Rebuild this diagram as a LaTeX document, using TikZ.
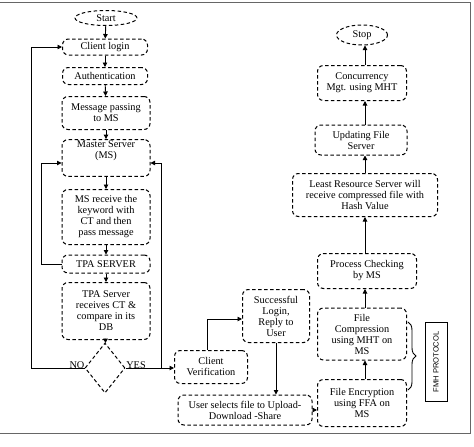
\documentclass[tikz,border=0pt]{standalone}
\usepackage{fontspec}
\setmainfont{Liberation Serif}
\newfontfamily\fmhfont{Liberation Sans}
\usetikzlibrary{arrows.meta,shapes.geometric,decorations.pathreplacing}
\begin{document}
\begin{tikzpicture}[x=1pt,y=-1pt,
  box/.style={draw, dash pattern=on 3.5pt off 2.5pt, rounded corners=6pt, align=center,
    font=\fontsize{10.3}{11}\selectfont, inner sep=1pt, line width=1pt},
  oval/.style={draw, ellipse, dash pattern=on 3.5pt off 2.5pt, font=\fontsize{10.3}{11}\selectfont,
    inner sep=0pt, line width=1pt},
  dia/.style={draw, diamond, dash pattern=on 3.5pt off 2.5pt, inner sep=0pt, line width=1pt},
  arr/.style={-{Triangle[length=4.5pt,width=4.5pt]}, line width=0.9pt},
  lab/.style={font=\fontsize{10.3}{11}\selectfont, inner sep=0pt},
  frameline/.style={draw=black!60, line width=0.9pt}
]
\useasboundingbox (0,0) rectangle (474,447);
% frame
\draw[frameline] (0,2) -- (470,2) -- (470,433) -- (0,433);

% left column
\node[oval, minimum width=62pt, minimum height=15pt] (start) at (106,18) {Start};
\node[box, minimum width=85pt, minimum height=16pt] (login) at (105,47) {Client login};
\node[box, minimum width=85pt, minimum height=17pt] (auth) at (105,76) {Authentication};
\node[box, minimum width=88pt, minimum height=33pt] (msg) at (106,113) {Message passing\\to MS};
\node[box, minimum width=88pt, minimum height=36pt] (ms) at (106,158) {Master Server\\(MS)\\[6pt]};
\node[box, minimum width=88pt, minimum height=55pt] (recv) at (106,217) {MS receive the\\keyword with\\CT and then\\pass message};
\node[box, minimum width=88pt, minimum height=18pt] (tpa) at (106,264) {TPA SERVER};
\node[box, minimum width=88pt, minimum height=57pt] (tpas) at (106,311) {TPA Server\\receives CT \&\\compare in its\\DB};
\node[dia, minimum width=40pt, minimum height=50pt] (dec) at (105,368) {};
\node[lab] (no) at (77,365) {NO};
\node[lab] (yes) at (136,365) {YES};

% middle
\node[box, minimum width=73pt, minimum height=33pt] (cv) at (211,367) {Client\\Verification};
\node[box, minimum width=67pt, minimum height=53pt] (succ) at (276,316) {Successful\\Login,\\Reply to\\User};
\node[box, minimum width=134pt, minimum height=30pt] (user) at (245,410) {User selects file to Upload-\\Download -Share};

% right column
\node[box, minimum width=89pt, minimum height=47pt] (enc) at (362,403) {File Encryption\\using FFA on\\MS};
\node[box, minimum width=89pt, minimum height=52pt] (comp) at (362,334) {File\\Compression\\using MHT on\\MS};
\node[box, minimum width=99pt, minimum height=35pt] (proc) at (367,271) {Process Checking\\by MS};
\node[box, minimum width=145pt, minimum height=43pt] (least) at (365,195) {Least Resource Server will\\receive compressed file with\\Hash Value};
\node[box, minimum width=92pt, minimum height=30pt] (upd) at (361,140) {Updating File\\Server};
\node[box, minimum width=89pt, minimum height=35pt] (conc) at (362,83) {Concurrency\\Mgt. using MHT};
\node[oval, minimum width=51pt, minimum height=20pt] (stop) at (362,35) {Stop};

\node[draw, line width=0.9pt, rotate=90, minimum width=79pt, minimum height=22pt, inner sep=0pt,
  font=\fmhfont\fontsize{7.6}{8}\selectfont] (fmh) at (436,362) {FMH PROTOCOL};

% left column arrows
\draw[arr] (start) -- (login);
\draw[arr] (login) -- (auth);
\draw[arr] (auth) -- (msg);
\draw[arr] (msg) -- (ms);
\draw[arr] (ms) -- (recv);
\draw[arr] (recv) -- (tpa);
\draw[arr] (tpa) -- (tpas);
\draw[arr] (tpas) -- (dec);

% loops
\coordinate (noc) at (31,368);
\draw[arr] (dec.west) -- (noc) |- (login.west);
\coordinate (tlc) at (41,264);
\draw[arr] (tpa.west) -- (tlc) |- ([yshift=-5pt]ms.west);
\coordinate (ycc) at (161,368);
\draw[arr] (dec.east) -- (dec.east -| cv.west);
\draw[arr] (ycc) |- ([yshift=-5pt]ms.east);

% middle arrows
\draw[arr] ([xshift=-4pt]cv.north) |- ([yshift=-3pt]succ.west);
\draw[arr] (succ.south) -- (succ.south |- user.north);
\draw[arr] (user.east) -- (user.east -| enc.west);

% right column arrows
\coordinate (rc) at (365,0);
\draw[arr] (enc.north -| rc) -- (comp.south -| rc);
\draw[arr] (comp.north -| rc) -- (proc.south -| rc);
\draw[arr] (proc.north -| rc) -- (least.south -| rc);
\draw[arr] (least.north -| rc) -- (upd.south -| rc);
\draw[arr] (upd.north -| rc) -- (conc.south -| rc);
\draw[arr] (conc.north -| rc) -- (stop.south -| rc);

% brace
\coordinate (bt) at (408,322);
\coordinate (bb) at (408,390);
\draw[line width=0.9pt, decorate, decoration={brace, amplitude=8pt}] (bt) -- (bb);
\end{tikzpicture}
\end{document}
